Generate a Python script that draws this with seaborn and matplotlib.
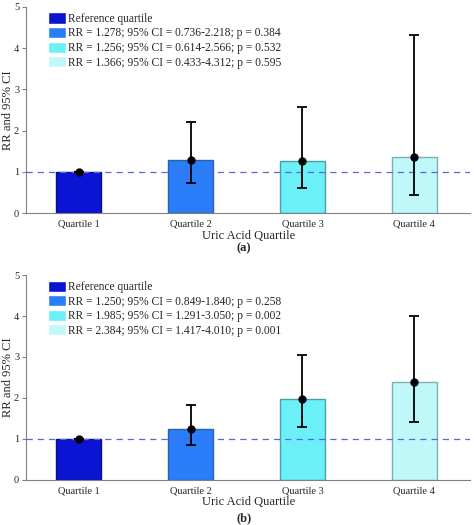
import seaborn as sns
import matplotlib.pyplot as plt
import pandas as pd

quartiles = ['Quartile 1', 'Quartile 2', 'Quartile 3', 'Quartile 4']
colors = ['#0a14d2', '#2a7df8', '#6cf0f8', '#c0f8fa']
edges = ['#0a108a', '#2a60b0', '#4aa0a8', '#7ab0b4']

# panel (a)
rr_a = [1.0, 1.278, 1.256, 1.366]
lo_a = [1.0, 0.736, 0.614, 0.433]
hi_a = [1.0, 2.218, 2.566, 4.312]
labels_a = ['Reference quartile',
            'RR = 1.278; 95% CI = 0.736-2.218; p = 0.384',
            'RR = 1.256; 95% CI = 0.614-2.566; p = 0.532',
            'RR = 1.366; 95% CI = 0.433-4.312; p = 0.595']

# panel (b)
rr_b = [1.0, 1.250, 1.985, 2.384]
lo_b = [1.0, 0.849, 1.291, 1.417]
hi_b = [1.0, 1.840, 3.050, 4.010]
labels_b = ['Reference quartile',
            'RR = 1.250; 95% CI = 0.849-1.840; p = 0.258',
            'RR = 1.985; 95% CI = 1.291-3.050; p = 0.002',
            'RR = 2.384; 95% CI = 1.417-4.010; p = 0.001']

sns.set_style('white')
plt.rcParams['font.family'] = ['Liberation Serif', 'DejaVu Serif']


def draw_panel(ax, rr, lo, hi, labels, tag, tag_y):
    df = pd.DataFrame({'quartile': quartiles, 'rr': rr, 'label': labels})
    sns.barplot(data=df, x='quartile', y='rr', hue='label', dodge=False,
                palette=colors, saturation=1, width=0.4, ax=ax, legend=True)
    for patch, ec in zip(ax.patches, edges):
        patch.set_edgecolor(ec)
        patch.set_linewidth(1.0)
    xs = range(len(quartiles))
    err = [[r - l for r, l in zip(rr, lo)], [h - r for r, h in zip(rr, hi)]]
    ax.errorbar(xs, rr, yerr=err, fmt='o', color='black', ms=5,
                elinewidth=1.3, capsize=3.5, capthick=1.3, zorder=5)
    ax.axhline(1, color='#5866e0', lw=0.9, ls=(0, (5, 4)), zorder=4)
    ax.set_xlim(-0.47, 3.5)
    ax.set_ylim(0, 5)
    ax.set_yticks([0, 1, 2, 3, 4, 5])
    sns.despine(ax=ax)
    ax.spines['left'].set_color('#808080')
    ax.spines['bottom'].set_color('#808080')
    ax.spines['left'].set_linewidth(0.8)
    ax.spines['bottom'].set_linewidth(0.8)
    ax.tick_params(axis='y', left=True, length=3, width=0.8, color='#808080',
                   labelsize=7.5, pad=2)
    ax.tick_params(axis='x', bottom=False, labelsize=7.5, pad=1)
    ax.set_xlabel('Uric Acid Quartile', fontsize=9, labelpad=1)
    ax.set_ylabel('RR and 95% CI', fontsize=9)
    ax.yaxis.set_label_coords(-0.028, 0.5)
    ax.legend(loc='upper left', bbox_to_anchor=(0.038, 0.995), frameon=False,
              fontsize=8.3, handlelength=1.6, handleheight=1.1,
              handletextpad=0.2, labelspacing=0.18, borderaxespad=0)
    ax.text(0.49, tag_y, tag, transform=ax.transAxes, ha='center',
            va='center', fontsize=9, fontweight='bold')


fig = plt.figure(figsize=(4.74, 5.25), dpi=100)
ax_a = fig.add_axes([0.055, 0.594, 0.937, 0.393])
ax_b = fig.add_axes([0.055, 0.086, 0.937, 0.390])
draw_panel(ax_a, rr_a, lo_a, hi_a, labels_a, '(a)', -0.17)
draw_panel(ax_b, rr_b, lo_b, hi_b, labels_b, '(b)', -0.19)

fig.savefig('out.png', dpi=100)
